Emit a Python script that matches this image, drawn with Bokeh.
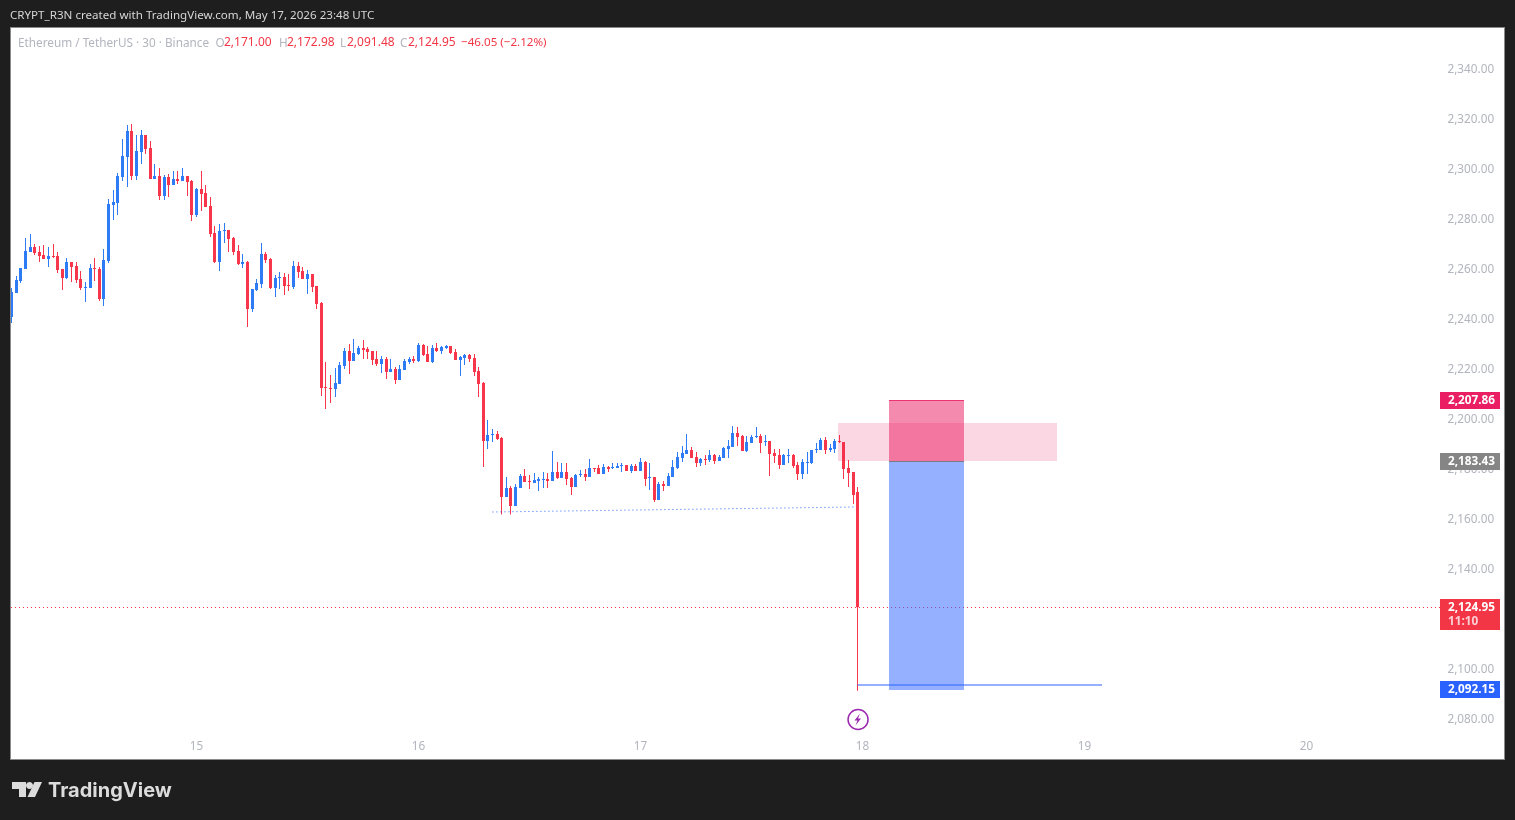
import math
from bokeh.plotting import figure
from bokeh.embed import file_html
from bokeh.resources import INLINE
from bokeh.models import (Range1d, FixedTicker, NumeralTickFormatter, Label, BoxAnnotation,
                          PolyAnnotation, ColumnDataSource)

# ---------- data ----------
direction = ("BBBBBRRRBRRRBRRRBBRRBBBBBBRBBRRBRBRBRBRRBRRRRBBRRRBRBBBRRBBRRBRRBRRR"
             "RRBBBRBBRRRRBRBRBBBRBRRBRBBRRBBRRRRBBRRBRBBRRBBBRBRBRRBBRBRR"
             "BRBBBRBRBRBRBRBBBBBRRBRBRBBBBRRBBBRBRRRBBRRBBBBBRBBRRRRR")
body_high = [
 2251.0,2255.8,2260.6,2267.4,2269.0,2269.0,2267.0,2265.8,2265.4,2265.4,2265.4,2260.2,2263.0,2263.0,2261.4,2256.2,2253.0,2260.6,2260.6,2260.2,
 2263.8,2286.2,2287.0,2297.4,2305.4,2315.4,2315.4,2307.4,2313.8,2313.8,2308.6,2297.4,2297.4,2297.0,2297.0,2296.2,2296.2,2297.4,2297.4,2295.4,
 2292.2,2292.2,2290.6,2285.4,2274.6,2275.4,2275.8,2275.8,2272.6,2267.4,2263.0,2263.0,2252.2,2254.6,2266.2,2266.2,2264.2,2256.6,2257.0,2257.0,
 2253.8,2261.4,2261.4,2259.4,2258.2,2258.2,2253.4,2246.6,
 2213.0,2212.6,2214.6,2221.8,2227.4,2227.4,2226.6,2228.6,2228.6,2228.2,2227.4,2224.2,2224.2,2224.2,2220.2,2220.2,2220.2,2223.4,2224.2,2224.2,
 2229.8,2229.8,2226.2,2228.6,2228.6,2229.0,2229.4,2229.4,2227.0,2225.0,2225.8,2225.8,2224.6,2219.4,2214.6,2193.8,2194.2,2194.2,2192.6,2172.6,
 2172.6,2173.0,2177.4,2177.4,2175.4,2175.8,2176.2,2176.2,2176.2,2179.0,2179.0,2179.0,2179.0,2176.6,2177.8,2178.2,2178.2,2180.6,2180.6,2180.6,
 2181.0,2181.0,2181.0,2181.4,2181.8,2181.8,2181.4,2181.4,2183.0,2183.0,2177.0,2177.0,2174.2,2174.2,2177.4,2181.0,2185.0,2186.6,2187.8,2187.8,
 2185.0,2184.2,2184.2,2185.8,2185.8,2185.0,2188.6,2189.4,2194.6,2194.6,2193.4,2191.0,2193.0,2193.4,2193.4,2191.4,2191.4,2186.6,2185.8,2185.8,
 2185.8,2185.8,2181.8,2183.0,2183.0,2187.8,2188.2,2191.8,2191.8,2188.6,2191.4,2191.4,2191.0,2180.6,2179.0,2171.0]
body_low = [
 2241.0,2250.6,2255.4,2260.2,2267.0,2266.6,2265.4,2264.2,2264.2,2265.0,2259.8,2256.6,2256.6,2261.0,2255.8,2252.6,2252.6,2252.6,2260.2,2248.2,
 2248.2,2263.4,2285.8,2286.6,2297.0,2305.0,2297.4,2297.4,2307.0,2308.2,2296.2,2296.2,2289.4,2289.4,2293.8,2293.8,2295.4,2295.4,2295.0,2281.8,
 2281.8,2290.2,2285.0,2274.2,2263.0,2263.0,2275.4,2272.2,2267.0,2262.2,2262.2,2244.2,2244.2,2251.8,2254.2,2263.8,2252.6,2252.6,2256.6,2253.4,
 2253.4,2253.0,2259.0,2256.2,2256.2,2253.0,2246.2,2212.6,
 2212.6,2212.2,2212.2,2214.2,2221.4,2223.4,2223.4,2226.2,2227.8,2227.0,2223.8,2222.2,2222.2,2219.0,2219.0,2215.8,2215.8,2219.8,2223.0,2223.4,
 2223.4,2225.8,2223.0,2223.0,2227.4,2227.4,2228.6,2226.6,2223.8,2223.8,2224.6,2224.2,2219.0,2214.2,2191.4,2191.4,2193.8,2192.2,2169.0,2169.0,
 2165.4,2165.4,2172.6,2175.0,2175.0,2174.6,2175.4,2175.8,2175.4,2175.4,2176.6,2176.6,2176.2,2173.0,2173.0,2177.8,2177.0,2177.0,2180.2,2178.2,
 2178.2,2180.2,2180.6,2180.6,2181.4,2179.4,2179.4,2179.4,2179.4,2176.2,2176.6,2167.8,2167.8,2173.4,2173.4,2177.0,2180.6,2184.6,2186.2,2184.6,
 2182.6,2182.6,2183.8,2183.8,2183.4,2183.4,2184.6,2188.2,2189.0,2193.0,2187.4,2187.4,2190.6,2193.0,2190.6,2191.0,2186.2,2185.4,2181.8,2181.8,
 2185.4,2181.4,2178.2,2178.2,2182.6,2182.6,2187.8,2187.8,2187.8,2187.8,2188.2,2191.0,2180.2,2178.6,2169.8,2124.95]
wick_high = [
 2252.6,2257.4,2260.6,2272.6,2274.2,2270.2,2269.4,2269.8,2269.0,2270.2,2267.0,2260.2,2264.6,2263.0,2263.0,2259.4,2255.0,2262.2,2264.6,2261.0,
 2268.2,2288.2,2291.8,2298.6,2312.2,2317.8,2318.2,2313.8,2315.8,2313.8,2311.4,2302.2,2300.6,2297.8,2298.2,2299.4,2299.4,2300.6,2297.4,2295.8,
 2292.6,2299.4,2293.8,2289.0,2277.4,2278.2,2278.6,2275.8,2273.0,2269.8,2266.2,2263.4,2252.2,2256.2,2270.6,2267.0,2264.6,2257.8,2259.0,2258.6,
 2258.2,2263.4,2263.0,2261.0,2259.8,2258.2,2253.4,2247.0,
 2223.0,2217.8,2220.6,2223.0,2228.6,2230.2,2232.2,2229.4,2231.8,2229.0,2227.4,2227.4,2225.4,2225.0,2224.2,2221.0,2221.8,2224.2,2225.0,2225.4,
 2230.6,2230.2,2229.4,2229.8,2230.6,2229.4,2229.8,2229.4,2228.2,2225.4,2226.2,2226.2,2226.2,2221.0,2215.0,2199.8,2196.2,2195.4,2193.0,2177.0,
 2173.4,2174.2,2178.2,2180.2,2177.8,2178.6,2177.0,2179.0,2178.6,2187.4,2183.0,2182.6,2182.6,2177.0,2178.2,2179.8,2180.2,2184.2,2180.6,2181.8,
 2182.2,2181.4,2182.6,2182.6,2182.6,2181.8,2182.2,2182.2,2184.6,2183.4,2182.6,2177.0,2175.0,2175.4,2178.6,2183.8,2187.0,2189.4,2194.2,2189.0,
 2187.0,2184.6,2185.8,2187.8,2186.2,2185.8,2189.0,2191.8,2197.4,2197.0,2193.8,2193.4,2193.8,2197.0,2194.2,2193.8,2191.4,2188.2,2188.2,2186.2,
 2188.2,2186.2,2183.0,2184.2,2187.0,2187.8,2190.6,2192.6,2193.0,2190.2,2192.2,2193.8,2191.0,2183.8,2179.0,2172.98]
wick_low = [
 2238.6,2250.6,2254.6,2260.2,2267.0,2265.8,2263.0,2264.2,2261.0,2264.6,2258.6,2251.8,2256.2,2255.0,2254.6,2251.8,2247.0,2252.6,2255.4,2247.4,
 2245.4,2262.6,2279.8,2281.8,2295.4,2293.0,2295.8,2295.8,2302.2,2306.2,2296.2,2296.2,2287.8,2287.8,2289.0,2293.8,2294.2,2295.4,2289.4,2279.4,
 2281.0,2283.4,2285.0,2273.0,2262.6,2259.4,2270.6,2267.0,2265.8,2261.8,2260.6,2237.0,2243.0,2251.4,2252.6,2262.6,2252.2,2249.0,2252.2,2249.8,
 2251.4,2252.2,2256.6,2256.2,2250.2,2251.0,2244.2,2209.4,
 2204.2,2206.6,2209.0,2214.2,2220.2,2218.2,2223.4,2225.8,2224.2,2224.2,2221.8,2221.4,2218.6,2216.2,2219.0,2214.2,2215.8,2219.8,2222.2,2222.6,
 2223.0,2225.4,2223.0,2222.6,2227.0,2226.2,2228.2,2226.2,2223.8,2217.4,2221.8,2223.0,2217.4,2209.0,2181.0,2188.2,2191.0,2191.8,2162.0,2169.0,
 2162.0,2165.4,2172.6,2175.0,2172.2,2174.6,2171.4,2172.6,2172.6,2175.4,2176.2,2176.6,2173.8,2169.8,2173.0,2177.0,2175.4,2177.0,2179.0,2178.2,
 2178.2,2179.0,2180.2,2180.6,2179.0,2179.4,2178.6,2179.4,2179.4,2173.4,2171.8,2167.0,2167.8,2171.4,2173.4,2177.0,2180.2,2183.0,2186.2,2184.6,
 2181.0,2181.4,2181.8,2183.0,2182.2,2183.4,2184.6,2184.6,2189.0,2189.4,2187.4,2187.0,2190.6,2192.6,2186.6,2189.4,2177.4,2182.6,2180.2,2181.8,
 2182.6,2180.6,2175.8,2176.2,2178.2,2182.2,2186.6,2187.8,2186.2,2187.0,2186.6,2190.6,2176.2,2173.0,2166.2,2091.48]

day_ticks = [15, 16, 17, 18, 19, 20]
price_ticks = list(range(2080, 2341, 20))
bars_per_day = 48
first_bar_day = 15 - 40 / bars_per_day

support_days = [16.333, 17.964]
support_prices = [2163.0, 2165.0]
zone_days = [17.8896, 18.8761]
zone_prices = [2183.4, 2198.6]
position_days = [18.1194, 18.4572]
entry_price, stop_price, target_price = 2183.4, 2207.8, 2091.8
target_line_days = [17.977, 19.079]
target_line_price = 2093.8
last_price = 2124.8
event_day, event_price = 17.98, 2080.0

UP, DOWN = "#2e7bf6", "#f7364b"
BLUE, PINK = "#2962ff", "#e91e63"
PANEL_TEXT = "#b2b5be"
FONT = "Noto Sans"
PX_DAY, PX_UNIT = 222.0, 2.5
W, H = 1516, 821


def snap(day):
    px = 196.5 + PX_DAY * (day - 15)
    return 15 + (math.floor(px) + 0.5 - 196.5) / PX_DAY


def c(v):
    """page pixel -> canvas pixel (figure sits 1px off the page corner; bokeh adds half a pixel)"""
    return v + 0.5


n = len(wick_high)
days = [snap(first_bar_day + i / bars_per_day) for i in range(n)]
colors = [UP if d == "B" else DOWN for d in direction]
src = ColumnDataSource(dict(x=days, wh=wick_high, wl=wick_low, bh=body_high, bl=body_low, c=colors))

y_low, y_high = 2340 - (H - 70) / PX_UNIT, 2340 + 70 / PX_UNIT
p = figure(width=W, height=H, output_backend="svg", toolbar_location=None,
           x_range=Range1d(15 - 197 / PX_DAY, 15 + (W - 197) / PX_DAY),
           y_range=Range1d(y_low, y_high),
           y_axis_location="right", min_border_left=0, min_border_right=0,
           min_border_top=0, min_border_bottom=0,
           border_fill_color="#1e1e1e", background_fill_color="#1e1e1e",
           styles={"position": "fixed", "left": "-1px", "top": "-1px"})
p.outline_line_color = None
p.grid.visible = False
# tick labels sit one pixel above their price level, as in the reference
p.extra_y_ranges = {"labels": Range1d(y_low - 1 / PX_UNIT, y_high - 1 / PX_UNIT)}
p.yaxis[0].y_range_name = "labels"

for ax in (p.xaxis[0], p.yaxis[0]):
    ax.axis_line_color = None
    ax.major_tick_line_color = None
    ax.minor_tick_line_color = None
    ax.major_tick_out = 0
    ax.major_tick_in = 0
    ax.major_label_text_color = PANEL_TEXT
    ax.major_label_text_font = FONT
    ax.major_label_text_font_size = "11.75px"
p.xaxis[0].ticker = FixedTicker(ticks=day_ticks)
p.xaxis[0].major_label_standoff = 8
p.xaxis[0].fixed_location = 2340 - (733 - 70) / PX_UNIT
p.yaxis[0].ticker = FixedTicker(ticks=price_ticks)
p.yaxis[0].formatter = NumeralTickFormatter(format="0,0.00")
p.yaxis[0].major_label_standoff = 7
p.yaxis[0].fixed_location = 15 + (1441 - 197) / PX_DAY


def box(l, r, t, b, color, level="annotation"):
    p.add_layout(BoxAnnotation(left=c(l), right=c(r), top=c(t), bottom=c(b), left_units="canvas", right_units="canvas",
                               top_units="canvas", bottom_units="canvas", fill_color=color, fill_alpha=1,
                               line_color=None, level=level))


# white panel under everything
box(10, 1505, 27, 760, "white", level="underlay")

# candles
p.segment("x", "wl", "x", "wh", source=src, line_color="c", line_width=1)
p.vbar("x", width=3 / PX_DAY, bottom="bl", top="bh", source=src, fill_color="c", line_color=None)

# drawings
p.line(support_days, support_prices, line_color=BLUE, line_width=1, line_dash="1 3")
p.line([15 + (11 - 196.5) / PX_DAY, 15 + (1440 - 196.5) / PX_DAY], [last_price, last_price],
       line_color="#f23645", line_width=1, line_dash="1 3")
p.quad(left=[position_days[0]], right=[position_days[1]], bottom=[entry_price], top=[stop_price],
       fill_color=PINK, fill_alpha=0.52, line_color=None)
p.quad(left=[position_days[0]], right=[position_days[1]], bottom=[target_price], top=[entry_price],
       fill_color=BLUE, fill_alpha=0.5, line_color=None)
p.quad(left=[zone_days[0]], right=[zone_days[1]], bottom=[zone_prices[0]], top=[zone_prices[1]],
       fill_color=PINK, fill_alpha=0.18, line_color=None)
p.line(position_days, [stop_price - 0.2, stop_price - 0.2], line_color=PINK, line_width=1, line_alpha=0.8)
p.line(position_days, [entry_price - 0.2, entry_price - 0.2], line_color="#787b86", line_width=1)
p.line(target_line_days, [target_line_price, target_line_price], line_color=BLUE, line_width=2, line_alpha=0.5)
p.scatter([event_day], [event_price], size=20, marker="circle", fill_color=None, line_color="#9c27b0", line_width=1.5)
p.add_layout(PolyAnnotation(xs=[c(v) for v in (860, 854.5, 857.5, 855.5, 861, 858)],
                            ys=[c(v) for v in (713.5, 720.5, 720.5, 725.5, 718.5, 718.5)],
                            xs_units="canvas", ys_units="canvas", fill_color="#9c27b0", fill_alpha=1, line_color=None))

# page surround above the candles (keeps candles inside the panel) and the panel border
box(0, 11, 27, 760, "#1e1e1e", level="overlay")
BORDER = "#8a8a8a"
box(10, 11, 27, 760, BORDER, level="overlay")
box(1504, 1505, 27, 760, BORDER, level="overlay")
box(10, 1505, 27, 28, BORDER, level="overlay")
box(10, 1505, 759, 760, BORDER, level="overlay")


def text(x, y, s, color, size="11.75px", style="normal", font=FONT):
    p.add_layout(Label(x=c(x), y=c(y), x_units="canvas", y_units="canvas", text=s, text_color=color, text_font=font,
                       text_font_size=size, text_font_style=style, text_baseline="middle", text_align="left"))


# price tags
box(1440, 1500, 392, 409, PINK)
box(1440, 1500, 453, 470, "#858585")
box(1440, 1500, 599, 630, "#f23645")
box(1440, 1500, 681, 698, BLUE)
for y, label in ((399.5, "2,207.86"), (460.5, "2,183.43"), (606.5, "2,124.95"), (688.5, "2,092.15")):
    text(1448, y, label, "white", style="bold")
text(1448, 620, "11:10", "#fbd0d5", style="bold")

# header
text(10, 14.5, "CRYPT_R3N created with TradingView.com, May 17, 2026 23:48 UTC", "#d6d6d6", size="11.6px")
text(18, 41.5, "Ethereum / TetherUS · 30 · Binance", PANEL_TEXT)
for x, s in ((215.5, "O"), (279, "H"), (340, "L"), (400, "C")):
    text(x, 41.5, s, PANEL_TEXT)
for x, s in ((224, "2,171.00"), (287, "2,172.98"), (347, "2,091.48"), (408, "2,124.95")):
    text(x, 41.5, s, "#f23645", size="12px")
text(461, 41.5, "−46.05 (−2.12%)", "#f23645", size="11.6px")

# logo
LOGO = "#dcdcdc"
p.add_layout(PolyAnnotation(xs=[c(v) for v in (12, 26, 26, 19, 19, 12)], ys=[c(v) for v in (782, 782, 797, 797, 789, 789)],
                            xs_units="canvas", ys_units="canvas", fill_color=LOGO, fill_alpha=1, line_color=None))
p.add_layout(PolyAnnotation(xs=[c(v) for v in (34.5, 42, 35, 27.5)], ys=[c(v) for v in (782, 782, 797, 797)],
                            xs_units="canvas", ys_units="canvas", fill_color=LOGO, fill_alpha=1, line_color=None))
circle_x = [c(29.5 + 3.5 * math.cos(k * math.pi / 8)) for k in range(16)]
circle_y = [c(785.5 + 3.5 * math.sin(k * math.pi / 8)) for k in range(16)]
p.add_layout(PolyAnnotation(xs=circle_x, ys=circle_y, xs_units="canvas", ys_units="canvas",
                            fill_color=LOGO, fill_alpha=1, line_color=None))
text(48, 790, "TradingView", LOGO, size="20px", style="bold", font="Inter")

open("out.html", "w").write(file_html(p, INLINE))
